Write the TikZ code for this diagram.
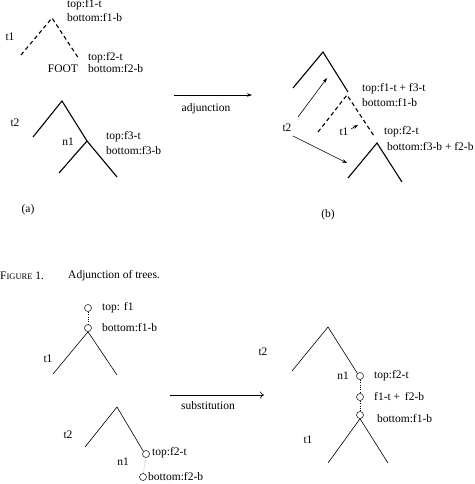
\documentclass[tikz,border=0pt]{standalone}
\usepackage{fontspec}
\setmainfont{Liberation Serif}
\usetikzlibrary{arrows.meta}

\begin{document}
\begin{tikzpicture}[x=1pt, y=-1pt, font=\fontsize{11.5}{13}\selectfont,
        tree/.style={line width=1.1pt},
        footline/.style={tree, dash pattern=on 4pt off 3pt},
        feat/.style={anchor=west, inner sep=0pt},
        lbl/.style={inner sep=0pt},
        move/.style={-{Stealth[length=5pt,width=3.5pt]}, line width=0.6pt},
        knot/.style={draw, circle, minimum size=7pt, inner sep=0pt, line width=0.5pt}]
            \useasboundingbox (0,0) rectangle (474,484);
            % (a): the two trees before adjunction
            \coordinate (t1apex) at (52,18);
            \coordinate (t1left) at (21,55);
            \coordinate (t1foot) at (79,59);
            \draw [footline] (t1left) -- (t1apex) -- (t1foot);
            \node [lbl] (t1a) at (10,37) {t1};
            \node [feat] (f1a) at (67,5) {top:f1-t};
            \node [feat] (f1b) at (67,18) {bottom:f1-b};
            \node [lbl] (foot) at (63,69) {FOOT};
            \node [feat] (f2a) at (88,58) {top:f2-t};
            \node [feat] (f2b) at (88,69) {bottom:f2-b};
            \coordinate (t2apex) at (62,101);
            \coordinate (t2left) at (33,137);
            \coordinate (n1a) at (87,141);
            \coordinate (t2right) at (117,177);
            \coordinate (n1left) at (59,173);
            \draw [tree] (t2left) -- (t2apex) -- (n1a) -- (t2right);
            \draw [tree] (n1a) -- (n1left);
            \node [lbl] (t2a) at (15,123) {t2};
            \node [lbl] (n1lab) at (68,142) {n1};
            \node [feat] (f3a) at (106,137) {top:f3-t};
            \node [feat] (f3b) at (106,151) {bottom:f3-b};
            \node [lbl] (capa) at (28,210) {(a)};
            % adjunction arrow
            \coordinate (adjfrom) at (174,95);
            \coordinate (adjto) at (252,95);
            \draw [move] (adjfrom) -- (adjto);
            \node [lbl] (adj) at (206,109) {adjunction};
            % (b): the result
            \coordinate (uapex) at (323,52);
            \coordinate (uleft) at (293,88);
            \coordinate (uright) at (348,92);
            \draw [tree] (uleft) -- (uapex) -- (uright);
            \coordinate (dapex) at (347,95);
            \coordinate (dleft) at (318,132);
            \coordinate (dright) at (374,136);
            \draw [footline] (dleft) -- (dapex) -- (dright);
            \coordinate (lapex) at (377,143);
            \coordinate (lleft) at (348,178);
            \coordinate (lright) at (402,182);
            \draw [tree] (lleft) -- (lapex) -- (lright);
            \node [lbl] (t2b) at (287,128) {t2};
            \node [lbl] (t1b) at (344,132) {t1};
            \coordinate (upfrom) at (298,117);
            \coordinate (upto) at (327,78);
            \coordinate (downfrom) at (293,136);
            \coordinate (downto) at (347,163);
            \coordinate (t1from) at (351,129);
            \coordinate (t1to) at (358,125);
            \draw [move] (upfrom) -- (upto);
            \draw [move] (downfrom) -- (downto);
            \draw [move] (t1from) -- (t1to);
            \node [feat] (g1a) at (362,89) {top:f1-t + f3-t};
            \node [feat] (g1b) at (362,103) {bottom:f1-b};
            \node [feat] (g2a) at (384,132) {top:f2-t};
            \node [feat] (g2b) at (387,147) {bottom:f3-b + f2-b};
            \node [lbl] (capb) at (328,215) {(b)};
            % caption
            \node [feat] (fig) at (0,276) {F{\fontsize{8.5}{10}\selectfont IGURE} 1.};
            \node [feat] (figtext) at (68,276) {Adjunction of trees.};
            % substitution, before
            \node [knot] (s1top) at (88,308) {};
            \node [knot] (s1bot) at (88,328) {};
            \draw [dotted] (s1top) -- (s1bot);
            \node [feat] (h1a) at (102,308) {top: f1};
            \node [feat] (h1b) at (102,328) {bottom:f1-b};
            \coordinate (s1left) at (53,374);
            \coordinate (s1right) at (117,375);
            \draw [line width=0.6pt] (s1left) -- (s1bot.south) -- (s1right);
            \node [lbl] (t1c) at (48,359) {t1};
            \coordinate (s2apex) at (117,407);
            \coordinate (s2left) at (85,447);
            \node [knot] (s2top) at (146,454) {};
            \node [knot] (s2bot) at (143,477) {};
            \draw [line width=0.6pt] (s2left) -- (s2apex) -- (s2top.north west);
            \draw [dotted] (s2top) -- (s2bot);
            \node [lbl] (t2c) at (68,435) {t2};
            \node [lbl] (n1c) at (123,462) {n1};
            \node [feat] (h2a) at (152,453) {top:f2-t};
            \node [feat] (h2b) at (148,477) {bottom:f2-b};
            % substitution arrow
            \coordinate (subfrom) at (170,395);
            \coordinate (subto) at (264,395);
            \draw [-{To[length=4pt,width=7pt]}, line width=0.6pt] (subfrom) -- (subto);
            \node [lbl] (subst) at (208,406) {substitution};
            % substitution, after
            \coordinate (r1apex) at (328,327);
            \coordinate (r1left) at (292,371);
            \node [knot] (rn1) at (360,376) {};
            \node [knot] (rmid) at (360,397) {};
            \node [knot] (rbot) at (360,415) {};
            \draw [line width=0.6pt] (r1left) -- (r1apex) -- (rn1.north west);
            \draw [dotted] (rn1) -- (rmid) -- (rbot);
            \coordinate (r2left) at (328,463);
            \coordinate (r2right) at (388,463);
            \draw [line width=0.6pt] (r2left) -- (rbot.south) -- (r2right);
            \node [lbl] (t2d) at (263,352) {t2};
            \node [lbl] (n1d) at (343,376) {n1};
            \node [lbl] (t1d) at (308,440) {t1};
            \node [feat] (k1) at (374,376) {top:f2-t};
            \node [feat] (k2) at (374,397) {f1-t + \,f2-b};
            \node [feat] (k3) at (377,419) {bottom:f1-b};
\end{tikzpicture}
\end{document}
